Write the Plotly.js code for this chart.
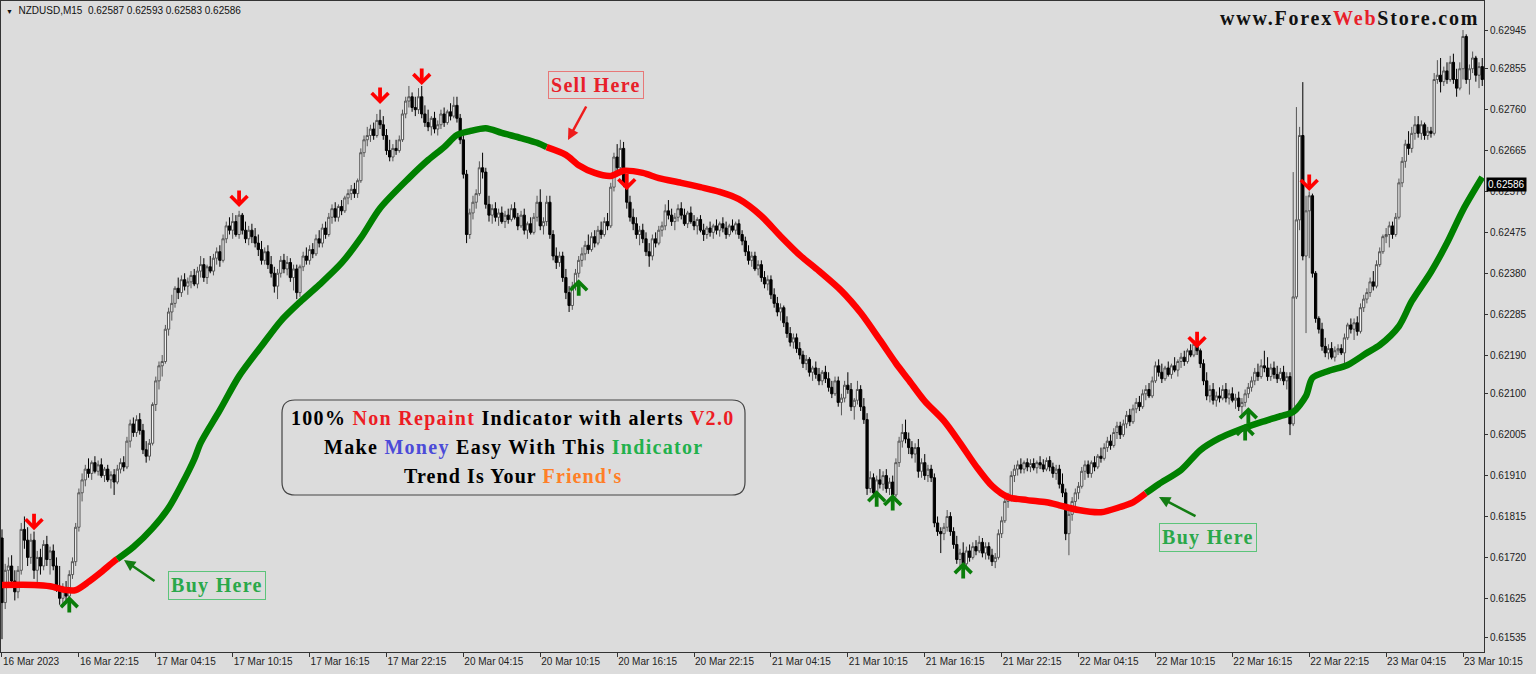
<!DOCTYPE html>
<html><head><meta charset="utf-8">
<script src="https://cdn.plot.ly/plotly-3.0.1.min.js"></script>
<style>html,body{margin:0;padding:0;background:#dcdcdc;}#chart{width:1536px;height:674px;}</style>
</head><body><div id="chart"></div>
<script>
// ---------------- data ----------------
const symbolInfo = 'NZDUSD,M15';
const lastQuote = ['0.62587', '0.62593', '0.62583', '0.62586'];
const currentPrice = 0.62586;
const timeLabels = ['16 Mar 2023','16 Mar 22:15','17 Mar 04:15','17 Mar 10:15','17 Mar 16:15','17 Mar 22:15',
  '20 Mar 04:15','20 Mar 10:15','20 Mar 16:15','20 Mar 22:15','21 Mar 04:15','21 Mar 10:15','21 Mar 16:15',
  '21 Mar 22:15','22 Mar 04:15','22 Mar 10:15','22 Mar 16:15','22 Mar 22:15','23 Mar 04:15','23 Mar 10:15'];
const barsPerLabel = 24;
const priceTicks = [0.61535,0.61625,0.61720,0.61815,0.61910,0.62005,0.62100,0.62190,0.62285,0.62380,0.62475,0.62570,0.62665,0.62760,0.62855,0.62945];

const openP = [
0.61765,0.61615,0.61690,0.61700,0.61665,0.61640,0.61690,0.61785,0.61760,0.61720,0.61760,0.61690,0.61720,0.61700,0.61750,0.61715,0.61735,0.61700,0.61650,0.61625,
0.61650,0.61630,0.61680,0.61710,0.61790,0.61870,0.61900,0.61925,0.61915,0.61940,0.61920,0.61935,0.61910,0.61925,0.61900,0.61912,0.61895,0.61925,0.61940,0.61930,
0.61990,0.62030,0.62010,0.62040,0.62015,0.61970,0.61955,0.61985,0.62075,0.62130,0.62165,0.62175,0.62250,0.62290,0.62310,0.62345,0.62335,0.62365,0.62350,0.62360,
0.62375,0.62355,0.62385,0.62400,0.62370,0.62395,0.62385,0.62415,0.62430,0.62410,0.62460,0.62490,0.62480,0.62500,0.62470,0.62515,0.62480,0.62460,0.62480,0.62465,
0.62450,0.62435,0.62410,0.62430,0.62400,0.62380,0.62350,0.62380,0.62410,0.62390,0.62405,0.62370,0.62390,0.62335,0.62395,0.62420,0.62410,0.62435,0.62425,0.62460,
0.62450,0.62485,0.62470,0.62510,0.62530,0.62510,0.62535,0.62525,0.62555,0.62565,0.62575,0.62565,0.62595,0.62660,0.62690,0.62700,0.62715,0.62700,0.62735,0.62725,
0.62700,0.62665,0.62650,0.62670,0.62665,0.62690,0.62750,0.62780,0.62790,0.62765,0.62760,0.62790,0.62750,0.62730,0.62720,0.62740,0.62715,0.62725,0.62750,0.62730,
0.62755,0.62745,0.62770,0.62740,0.62690,0.62610,0.62470,0.62520,0.62545,0.62565,0.62625,0.62615,0.62540,0.62515,0.62530,0.62510,0.62520,0.62500,0.62515,0.62505,
0.62530,0.62510,0.62490,0.62515,0.62480,0.62495,0.62475,0.62510,0.62545,0.62490,0.62500,0.62545,0.62470,0.62420,0.62405,0.62420,0.62370,0.62335,0.62305,0.62350,
0.62380,0.62410,0.62425,0.62445,0.62435,0.62465,0.62450,0.62480,0.62470,0.62500,0.62490,0.62580,0.62650,0.62625,0.62670,0.62590,0.62545,0.62510,0.62495,0.62470,
0.62480,0.62460,0.62430,0.62420,0.62460,0.62450,0.62480,0.62490,0.62525,0.62515,0.62500,0.62510,0.62530,0.62515,0.62495,0.62520,0.62500,0.62490,0.62505,0.62480,
0.62470,0.62485,0.62475,0.62490,0.62480,0.62495,0.62485,0.62470,0.62490,0.62480,0.62495,0.62470,0.62455,0.62430,0.62410,0.62420,0.62390,0.62400,0.62370,0.62355,
0.62365,0.62330,0.62310,0.62290,0.62300,0.62265,0.62240,0.62220,0.62230,0.62205,0.62190,0.62170,0.62180,0.62150,0.62160,0.62145,0.62130,0.62150,0.62135,0.62115,
0.62100,0.62130,0.62080,0.62090,0.62120,0.62110,0.62070,0.62085,0.62110,0.62070,0.62040,0.61880,0.61905,0.61870,0.61900,0.61890,0.61910,0.61880,0.61895,0.61865,
0.61940,0.61990,0.62010,0.61995,0.61975,0.61960,0.61975,0.61920,0.61940,0.61910,0.61925,0.61905,0.61800,0.61780,0.61775,0.61790,0.61815,0.61780,0.61750,0.61715,
0.61730,0.61705,0.61735,0.61720,0.61745,0.61735,0.61755,0.61730,0.61745,0.61725,0.61710,0.61720,0.61775,0.61805,0.61850,0.61860,0.61910,0.61925,0.61935,0.61925,
0.61940,0.61930,0.61938,0.61928,0.61940,0.61935,0.61925,0.61945,0.61930,0.61915,0.61925,0.61890,0.61870,0.61775,0.61820,0.61850,0.61870,0.61885,0.61920,0.61935,
0.61915,0.61940,0.61930,0.61955,0.61950,0.61975,0.61990,0.61980,0.62010,0.62025,0.62005,0.62030,0.62050,0.62035,0.62065,0.62080,0.62070,0.62100,0.62110,0.62095,
0.62130,0.62165,0.62150,0.62135,0.62160,0.62145,0.62165,0.62155,0.62175,0.62185,0.62175,0.62200,0.62190,0.62215,0.62200,0.62170,0.62130,0.62095,0.62110,0.62085,
0.62095,0.62090,0.62110,0.62090,0.62100,0.62085,0.62090,0.62070,0.62080,0.62100,0.62115,0.62130,0.62150,0.62140,0.62165,0.62160,0.62140,0.62160,0.62145,0.62135,
0.62150,0.62130,0.62140,0.62030,0.62325,0.62504,0.62700,0.62420,0.62525,0.62560,0.62380,0.62275,0.62250,0.62210,0.62195,0.62205,0.62185,0.62200,0.62205,0.62195,
0.62230,0.62260,0.62250,0.62265,0.62245,0.62300,0.62320,0.62335,0.62360,0.62350,0.62400,0.62430,0.62465,0.62470,0.62490,0.62470,0.62510,0.62590,0.62640,0.62680,
0.62670,0.62705,0.62725,0.62705,0.62725,0.62700,0.62710,0.62705,0.62830,0.62840,0.62825,0.62850,0.62830,0.62870,0.62830,0.62810,0.62855,0.62930,0.62830,0.62855,
0.62880,0.62840,0.62860];

const highP = [
0.61785,0.61705,0.61720,0.61725,0.61690,0.61700,0.61800,0.61815,0.61790,0.61775,0.61780,0.61735,0.61740,0.61760,0.61770,0.61745,0.61750,0.61720,0.61700,0.61660,
0.61665,0.61690,0.61720,0.61800,0.61880,0.61915,0.61935,0.61950,0.61945,0.61955,0.61945,0.61950,0.61930,0.61935,0.61920,0.61925,0.61935,0.61950,0.61955,0.62000,
0.62040,0.62045,0.62050,0.62055,0.62030,0.61990,0.61995,0.62080,0.62140,0.62175,0.62190,0.62260,0.62300,0.62330,0.62350,0.62370,0.62375,0.62380,0.62370,0.62385,
0.62390,0.62395,0.62420,0.62415,0.62400,0.62420,0.62425,0.62440,0.62445,0.62470,0.62500,0.62510,0.62520,0.62515,0.62525,0.62520,0.62500,0.62490,0.62495,0.62485,
0.62470,0.62455,0.62440,0.62445,0.62420,0.62395,0.62390,0.62420,0.62425,0.62420,0.62415,0.62400,0.62400,0.62400,0.62430,0.62440,0.62445,0.62450,0.62470,0.62480,
0.62495,0.62500,0.62520,0.62540,0.62545,0.62540,0.62550,0.62560,0.62575,0.62585,0.62590,0.62600,0.62670,0.62700,0.62720,0.62725,0.62730,0.62750,0.62760,0.62745,
0.62715,0.62690,0.62680,0.62690,0.62700,0.62760,0.62790,0.62815,0.62800,0.62790,0.62810,0.62815,0.62770,0.62760,0.62745,0.62755,0.62735,0.62760,0.62765,0.62760,
0.62775,0.62790,0.62790,0.62750,0.62700,0.62620,0.62530,0.62560,0.62575,0.62640,0.62660,0.62625,0.62560,0.62540,0.62545,0.62530,0.62535,0.62525,0.62530,0.62540,
0.62545,0.62520,0.62525,0.62530,0.62500,0.62510,0.62520,0.62560,0.62575,0.62510,0.62560,0.62560,0.62480,0.62440,0.62430,0.62430,0.62390,0.62350,0.62360,0.62390,
0.62420,0.62440,0.62455,0.62470,0.62475,0.62480,0.62490,0.62500,0.62510,0.62520,0.62590,0.62660,0.62680,0.62690,0.62685,0.62610,0.62560,0.62530,0.62510,0.62490,
0.62495,0.62475,0.62450,0.62470,0.62475,0.62490,0.62500,0.62540,0.62550,0.62530,0.62520,0.62540,0.62545,0.62530,0.62525,0.62535,0.62515,0.62510,0.62515,0.62495,
0.62490,0.62500,0.62495,0.62505,0.62500,0.62510,0.62500,0.62495,0.62505,0.62500,0.62505,0.62480,0.62465,0.62445,0.62430,0.62430,0.62410,0.62410,0.62385,0.62375,
0.62375,0.62345,0.62325,0.62310,0.62305,0.62280,0.62255,0.62240,0.62240,0.62220,0.62200,0.62190,0.62185,0.62165,0.62175,0.62160,0.62155,0.62165,0.62150,0.62130,
0.62140,0.62140,0.62100,0.62130,0.62150,0.62125,0.62090,0.62130,0.62120,0.62090,0.62055,0.61920,0.61915,0.61910,0.61925,0.61920,0.61925,0.61905,0.61910,0.61950,
0.62000,0.62030,0.62040,0.62010,0.61990,0.61985,0.61995,0.61950,0.61960,0.61935,0.61935,0.61915,0.61815,0.61790,0.61800,0.61830,0.61825,0.61790,0.61770,0.61740,
0.61755,0.61745,0.61750,0.61755,0.61760,0.61770,0.61765,0.61755,0.61755,0.61740,0.61730,0.61785,0.61815,0.61860,0.61870,0.61920,0.61935,0.61945,0.61950,0.61945,
0.61950,0.61948,0.61950,0.61945,0.61955,0.61948,0.61952,0.61955,0.61940,0.61935,0.61935,0.61915,0.61880,0.61830,0.61860,0.61880,0.61895,0.61930,0.61945,0.61945,
0.61945,0.61955,0.61960,0.61975,0.61985,0.62000,0.62005,0.62020,0.62035,0.62035,0.62040,0.62060,0.62065,0.62075,0.62090,0.62095,0.62110,0.62120,0.62125,0.62140,
0.62175,0.62180,0.62170,0.62165,0.62175,0.62170,0.62185,0.62180,0.62195,0.62200,0.62205,0.62215,0.62225,0.62230,0.62205,0.62180,0.62150,0.62120,0.62125,0.62105,
0.62115,0.62120,0.62125,0.62110,0.62115,0.62100,0.62105,0.62090,0.62110,0.62125,0.62140,0.62160,0.62170,0.62180,0.62200,0.62185,0.62170,0.62175,0.62165,0.62160,
0.62165,0.62150,0.62150,0.62615,0.62766,0.62720,0.62824,0.62560,0.62570,0.62565,0.62385,0.62280,0.62265,0.62230,0.62215,0.62220,0.62210,0.62215,0.62215,0.62240,
0.62265,0.62275,0.62275,0.62280,0.62310,0.62330,0.62345,0.62370,0.62385,0.62410,0.62440,0.62470,0.62485,0.62500,0.62500,0.62520,0.62600,0.62650,0.62690,0.62710,
0.62720,0.62745,0.62745,0.62735,0.62730,0.62720,0.62720,0.62845,0.62875,0.62880,0.62860,0.62870,0.62885,0.62890,0.62855,0.62870,0.62945,0.62935,0.62865,0.62895,
0.62885,0.62870,0.62880];

const lowP = [
0.61530,0.61600,0.61660,0.61650,0.61620,0.61625,0.61680,0.61740,0.61700,0.61705,0.61670,0.61650,0.61680,0.61690,0.61700,0.61680,0.61690,0.61640,0.61610,0.61605,
0.61620,0.61620,0.61670,0.61700,0.61780,0.61850,0.61885,0.61905,0.61900,0.61915,0.61910,0.61905,0.61895,0.61895,0.61880,0.61865,0.61890,0.61915,0.61920,0.61925,
0.61975,0.62000,0.62000,0.62005,0.61960,0.61940,0.61945,0.61980,0.62060,0.62110,0.62140,0.62170,0.62235,0.62270,0.62300,0.62320,0.62325,0.62340,0.62330,0.62345,
0.62350,0.62345,0.62370,0.62360,0.62355,0.62380,0.62375,0.62400,0.62395,0.62405,0.62450,0.62470,0.62460,0.62465,0.62460,0.62470,0.62450,0.62445,0.62450,0.62440,
0.62420,0.62400,0.62400,0.62390,0.62370,0.62335,0.62320,0.62370,0.62380,0.62375,0.62360,0.62340,0.62320,0.62325,0.62385,0.62400,0.62400,0.62415,0.62420,0.62440,
0.62440,0.62460,0.62465,0.62495,0.62500,0.62500,0.62515,0.62520,0.62540,0.62550,0.62555,0.62555,0.62590,0.62650,0.62675,0.62685,0.62690,0.62695,0.62715,0.62690,
0.62655,0.62640,0.62640,0.62655,0.62660,0.62685,0.62740,0.62765,0.62755,0.62745,0.62750,0.62740,0.62720,0.62710,0.62700,0.62705,0.62700,0.62715,0.62720,0.62725,
0.62735,0.62740,0.62730,0.62680,0.62600,0.62450,0.62460,0.62505,0.62530,0.62560,0.62600,0.62530,0.62500,0.62495,0.62500,0.62490,0.62495,0.62485,0.62495,0.62500,
0.62505,0.62480,0.62485,0.62470,0.62460,0.62470,0.62470,0.62500,0.62480,0.62470,0.62490,0.62460,0.62410,0.62390,0.62395,0.62360,0.62320,0.62290,0.62295,0.62340,
0.62370,0.62395,0.62410,0.62425,0.62430,0.62440,0.62445,0.62460,0.62465,0.62480,0.62485,0.62570,0.62610,0.62615,0.62580,0.62530,0.62500,0.62480,0.62460,0.62445,
0.62450,0.62420,0.62395,0.62410,0.62440,0.62445,0.62465,0.62480,0.62505,0.62490,0.62480,0.62500,0.62505,0.62490,0.62485,0.62495,0.62480,0.62470,0.62475,0.62455,
0.62460,0.62465,0.62460,0.62470,0.62465,0.62475,0.62460,0.62465,0.62475,0.62470,0.62460,0.62445,0.62420,0.62400,0.62395,0.62385,0.62375,0.62360,0.62345,0.62340,
0.62320,0.62300,0.62280,0.62270,0.62255,0.62230,0.62210,0.62205,0.62195,0.62180,0.62160,0.62155,0.62140,0.62130,0.62135,0.62120,0.62120,0.62125,0.62105,0.62090,
0.62095,0.62070,0.62050,0.62080,0.62100,0.62060,0.62040,0.62075,0.62060,0.62030,0.61865,0.61870,0.61860,0.61855,0.61880,0.61875,0.61870,0.61865,0.61850,0.61860,
0.61930,0.61975,0.61985,0.61960,0.61950,0.61940,0.61905,0.61905,0.61900,0.61895,0.61895,0.61790,0.61770,0.61730,0.61760,0.61780,0.61770,0.61740,0.61705,0.61690,
0.61695,0.61700,0.61710,0.61715,0.61725,0.61730,0.61720,0.61715,0.61715,0.61700,0.61695,0.61715,0.61765,0.61800,0.61835,0.61850,0.61895,0.61910,0.61915,0.61915,
0.61920,0.61918,0.61922,0.61915,0.61925,0.61918,0.61920,0.61920,0.61905,0.61900,0.61880,0.61860,0.61760,0.61725,0.61805,0.61835,0.61855,0.61880,0.61900,0.61905,
0.61905,0.61920,0.61925,0.61940,0.61945,0.61965,0.61970,0.61975,0.61995,0.61995,0.62000,0.62020,0.62025,0.62030,0.62055,0.62060,0.62065,0.62085,0.62090,0.62090,
0.62125,0.62140,0.62125,0.62130,0.62140,0.62135,0.62150,0.62140,0.62160,0.62165,0.62170,0.62185,0.62185,0.62190,0.62160,0.62120,0.62085,0.62080,0.62075,0.62070,
0.62080,0.62085,0.62080,0.62075,0.62080,0.62065,0.62060,0.62045,0.62070,0.62090,0.62105,0.62120,0.62130,0.62135,0.62150,0.62130,0.62130,0.62135,0.62125,0.62130,
0.62120,0.62110,0.62004,0.62025,0.62320,0.62480,0.62410,0.62241,0.62415,0.62370,0.62265,0.62240,0.62200,0.62185,0.62180,0.62180,0.62175,0.62190,0.62190,0.62170,
0.62225,0.62240,0.62225,0.62235,0.62240,0.62290,0.62310,0.62325,0.62340,0.62345,0.62395,0.62425,0.62450,0.62440,0.62460,0.62465,0.62505,0.62580,0.62625,0.62655,
0.62660,0.62690,0.62695,0.62690,0.62690,0.62690,0.62695,0.62700,0.62820,0.62800,0.62815,0.62820,0.62825,0.62820,0.62790,0.62805,0.62830,0.62820,0.62795,0.62845,
0.62825,0.62810,0.62815];

const closeP = [
0.61615,0.61690,0.61700,0.61665,0.61640,0.61690,0.61785,0.61760,0.61720,0.61760,0.61690,0.61720,0.61700,0.61750,0.61715,0.61735,0.61700,0.61650,0.61625,0.61650,
0.61630,0.61680,0.61710,0.61790,0.61870,0.61900,0.61925,0.61915,0.61940,0.61920,0.61935,0.61910,0.61925,0.61900,0.61912,0.61895,0.61925,0.61940,0.61930,0.61990,
0.62030,0.62010,0.62040,0.62015,0.61970,0.61955,0.61985,0.62075,0.62130,0.62165,0.62175,0.62250,0.62290,0.62310,0.62345,0.62335,0.62365,0.62350,0.62360,0.62375,
0.62355,0.62385,0.62400,0.62370,0.62395,0.62385,0.62415,0.62430,0.62410,0.62460,0.62490,0.62480,0.62500,0.62470,0.62515,0.62480,0.62460,0.62480,0.62465,0.62450,
0.62435,0.62410,0.62430,0.62400,0.62380,0.62350,0.62380,0.62410,0.62390,0.62405,0.62370,0.62390,0.62335,0.62395,0.62420,0.62410,0.62435,0.62425,0.62460,0.62450,
0.62485,0.62470,0.62510,0.62530,0.62510,0.62535,0.62525,0.62555,0.62565,0.62575,0.62565,0.62595,0.62660,0.62690,0.62700,0.62715,0.62700,0.62735,0.62725,0.62700,
0.62665,0.62650,0.62670,0.62665,0.62690,0.62750,0.62780,0.62790,0.62765,0.62760,0.62790,0.62750,0.62730,0.62720,0.62740,0.62715,0.62725,0.62750,0.62730,0.62755,
0.62745,0.62770,0.62740,0.62690,0.62610,0.62470,0.62520,0.62545,0.62565,0.62625,0.62615,0.62540,0.62515,0.62530,0.62510,0.62520,0.62500,0.62515,0.62505,0.62530,
0.62510,0.62490,0.62515,0.62480,0.62495,0.62475,0.62510,0.62545,0.62490,0.62500,0.62545,0.62470,0.62420,0.62405,0.62420,0.62370,0.62335,0.62305,0.62350,0.62380,
0.62410,0.62425,0.62445,0.62435,0.62465,0.62450,0.62480,0.62470,0.62500,0.62490,0.62580,0.62650,0.62625,0.62670,0.62590,0.62545,0.62510,0.62495,0.62470,0.62480,
0.62460,0.62430,0.62420,0.62460,0.62450,0.62480,0.62490,0.62525,0.62515,0.62500,0.62510,0.62530,0.62515,0.62495,0.62520,0.62500,0.62490,0.62505,0.62480,0.62470,
0.62485,0.62475,0.62490,0.62480,0.62495,0.62485,0.62470,0.62490,0.62480,0.62495,0.62470,0.62455,0.62430,0.62410,0.62420,0.62390,0.62400,0.62370,0.62355,0.62365,
0.62330,0.62310,0.62290,0.62300,0.62265,0.62240,0.62220,0.62230,0.62205,0.62190,0.62170,0.62180,0.62150,0.62160,0.62145,0.62130,0.62150,0.62135,0.62115,0.62100,
0.62130,0.62080,0.62090,0.62120,0.62110,0.62070,0.62085,0.62110,0.62070,0.62040,0.61880,0.61905,0.61870,0.61900,0.61890,0.61910,0.61880,0.61895,0.61865,0.61940,
0.61990,0.62010,0.61995,0.61975,0.61960,0.61975,0.61920,0.61940,0.61910,0.61925,0.61905,0.61800,0.61780,0.61775,0.61790,0.61815,0.61780,0.61750,0.61715,0.61730,
0.61705,0.61735,0.61720,0.61745,0.61735,0.61755,0.61730,0.61745,0.61725,0.61710,0.61720,0.61775,0.61805,0.61850,0.61860,0.61910,0.61925,0.61935,0.61925,0.61940,
0.61930,0.61938,0.61928,0.61940,0.61935,0.61925,0.61945,0.61930,0.61915,0.61925,0.61890,0.61870,0.61775,0.61820,0.61850,0.61870,0.61885,0.61920,0.61935,0.61915,
0.61940,0.61930,0.61955,0.61950,0.61975,0.61990,0.61980,0.62010,0.62025,0.62005,0.62030,0.62050,0.62035,0.62065,0.62080,0.62070,0.62100,0.62110,0.62095,0.62130,
0.62165,0.62150,0.62135,0.62160,0.62145,0.62165,0.62155,0.62175,0.62185,0.62175,0.62200,0.62190,0.62215,0.62200,0.62170,0.62130,0.62095,0.62110,0.62085,0.62095,
0.62090,0.62110,0.62090,0.62100,0.62085,0.62090,0.62070,0.62080,0.62100,0.62115,0.62130,0.62150,0.62140,0.62165,0.62160,0.62140,0.62160,0.62145,0.62135,0.62150,
0.62130,0.62140,0.62030,0.62325,0.62504,0.62700,0.62420,0.62525,0.62560,0.62380,0.62275,0.62250,0.62210,0.62195,0.62205,0.62185,0.62200,0.62205,0.62195,0.62230,
0.62260,0.62250,0.62265,0.62245,0.62300,0.62320,0.62335,0.62360,0.62350,0.62400,0.62430,0.62465,0.62470,0.62490,0.62470,0.62510,0.62590,0.62640,0.62680,0.62670,
0.62705,0.62725,0.62705,0.62725,0.62700,0.62710,0.62705,0.62830,0.62840,0.62825,0.62850,0.62830,0.62870,0.62830,0.62810,0.62855,0.62930,0.62830,0.62855,0.62880,
0.62840,0.62860,0.62830];

// trend moving average (bar index, value)
const maBar = [0,10,15,20,23,27,31,35,36,
  41,47,52,56,60,62,68,74,81,87,93,99,106,112,118,127,133,138,142,146,151,156,162,167,170,
  176,180,185,190,194,200,205,212,218,224,230,237,243,249,255,262,268,274,279,283,288,294,299,304,309,314,320,326,330,336,343,349,353,357,
  361,368,374,380,386,393,399,403,407,409,414,420,426,430,436,440,446,451,456,462];
const maVal = [0.61656,0.61656,0.61653,0.61644,0.61644,0.61663,0.61686,0.61711,0.61716,
  0.61744,0.61788,0.61835,0.61888,0.61948,0.61986,0.62062,0.62141,0.62211,0.62269,0.62313,0.62353,0.62404,0.62462,0.62531,0.62601,0.62643,0.62673,0.62701,0.62710,0.62717,0.62706,0.62694,0.62683,0.62673,
  0.62655,0.62631,0.62613,0.62606,0.62618,0.62613,0.62601,0.62590,0.62580,0.62569,0.62552,0.62513,0.62466,0.62422,0.62385,0.62339,0.62288,0.62225,0.62171,0.62132,0.62083,0.62037,0.61986,0.61932,0.61886,0.61860,0.61853,0.61848,0.61841,0.61830,0.61825,0.61837,0.61848,0.61869,
  0.61890,0.61923,0.61969,0.61997,0.62016,0.62034,0.62048,0.62058,0.62095,0.62137,0.62153,0.62167,0.62195,0.62213,0.62257,0.62315,0.62383,0.62450,0.62527,0.62603];
const trendBreaks = [36, 170, 357];          // bars where the MA colour flips
const trendColors = ['#ff0000', '#008000'];   // down, up (starts down)

// signal arrows
const sellBar = [10, 74, 118, 131, 195, 373, 408];
const sellTip = [0.61783, 0.62534, 0.62773, 0.62817, 0.62573, 0.62206, 0.62571];
const buyBar  = [21, 180, 273, 278, 300, 388, 389];
const buyTip  = [0.61630, 0.62366, 0.61876, 0.61867, 0.61709, 0.62030, 0.62069];

// ---------------- geometry helpers ----------------
const W = 1536, H = 674;
const M = {l: 1, r: 52, t: 1, b: 22};
const PL = M.l, PR = W - M.r, PT = M.t, PB = H - M.b;
const pxX = x => (x - PL) / (PR - PL);
const pxY = y => (PB - y) / (PB - PT);

function roundRect(x0, y0, x1, y1, r) {
  const a = pxX(x0), b = pxX(x1), t = pxY(y0), u = pxY(y1);
  const rx = r / (PR - PL), ry = r / (PB - PT);
  return `M${a+rx},${t} L${b-rx},${t} Q${b},${t} ${b},${t-ry} L${b},${u+ry} Q${b},${u} ${b-rx},${u} ` +
         `L${a+rx},${u} Q${a},${u} ${a},${u+ry} L${a},${t-ry} Q${a},${t} ${a+rx},${t} Z`;
}
const sp = (txt, color, ls) => `<span style="letter-spacing:${ls}px${color ? ';color:' + color : ''}">${txt}</span>`;

// ---------------- traces ----------------
const n = closeP.length;
const barIdx = closeP.map((_, i) => i);
const traces = [];
const bounds = [0, ...trendBreaks, n - 1];
for (let s = 0; s < bounds.length - 1; s++) {
  const xs = [], ys = [];
  maBar.forEach((b, k) => { if (b >= bounds[s] && b <= bounds[s + 1]) { xs.push(b); ys.push(maVal[k]); } });
  traces.push({type: 'scatter', mode: 'lines', x: xs, y: ys, hoverinfo: 'skip', showlegend: false,
    line: {color: trendColors[s % 2], width: 6.5, shape: 'spline', smoothing: 0.8}});
}
traces.push({
  type: 'candlestick', x: barIdx, open: openP, high: highP, low: lowP, close: closeP,
  increasing: {line: {color: '#555555', width: 1}, fillcolor: '#f2f2f2'},
  decreasing: {line: {color: '#000000', width: 1}, fillcolor: '#000000'},
  whiskerwidth: 0, hoverinfo: 'skip', showlegend: false
});

// ---------------- annotations ----------------
const ann = [];
sellBar.forEach((b, k) => ann.push({x: b, y: sellTip[k], xref: 'x', yref: 'y', text: '', showarrow: true,
  ax: 0, ay: -18, arrowhead: 4, arrowsize: 0.85, arrowwidth: 3.8, arrowcolor: '#ff0000'}));
buyBar.forEach((b, k) => ann.push({x: b, y: buyTip[k], xref: 'x', yref: 'y', text: '', showarrow: true,
  ax: 0, ay: 18, arrowhead: 4, arrowsize: 0.85, arrowwidth: 3.8, arrowcolor: '#0a7d0a'}));

ann.push({xref: 'paper', yref: 'paper', x: pxX(4), y: pxY(10), xanchor: 'left', yanchor: 'middle', showarrow: false,
  text: '<span style="font-size:7px">▼</span>&nbsp;&nbsp;' + symbolInfo + '&nbsp;&nbsp;' + lastQuote.join(' '),
  font: {family: 'Liberation Sans', size: 10, color: '#111111'}});

ann.push({xref: 'paper', yref: 'paper', x: pxX(1481), y: pxY(18), xanchor: 'right', yanchor: 'middle', showarrow: false,
  text: sp('www.Forex', null, 1.8) + sp('Web', '#e8202a', 1.8) + sp('Store.com', null, 1.8),
  font: {family: 'Liberation Serif', size: 20, weight: 700, color: '#111111'}});

const serif = {family: 'Liberation Serif', size: 20, weight: 700, color: '#000000'};
ann.push({xref: 'paper', yref: 'paper', x: pxX(513), y: pxY(418), xanchor: 'center', yanchor: 'middle', showarrow: false, font: serif,
  text: sp('100% ', null, 1.3) + sp('Non Repaint', '#ed1c24', 1.3) + sp(' Indicator with alerts ', null, 1.3) + sp('V2.0', '#ed1c24', 1.3)});
ann.push({xref: 'paper', yref: 'paper', x: pxX(513), y: pxY(447), xanchor: 'center', yanchor: 'middle', showarrow: false, font: serif,
  text: sp('Make ', null, 1.3) + sp('Money', '#4b4bd8', 1.3) + sp(' Easy With This ', null, 1.3) + sp('Indicator', '#22b14c', 1.3)});
ann.push({xref: 'paper', yref: 'paper', x: pxX(513), y: pxY(476), xanchor: 'center', yanchor: 'middle', showarrow: false, font: serif,
  text: sp('Trend Is Your ', null, 1.1) + sp("Friend's", '#ff7f27', 1.1)});

// callout boxes
ann.push({xref: 'paper', yref: 'paper', x: pxX(596), y: pxY(85), xanchor: 'center', yanchor: 'middle', showarrow: false,
  text: sp('Sell Here', null, 1.3), font: Object.assign({}, serif, {color: '#e8202a'}),
  bordercolor: '#e87878', borderwidth: 1, borderpad: 2});
ann.push({xref: 'paper', yref: 'paper', x: pxX(217), y: pxY(585), xanchor: 'center', yanchor: 'middle', showarrow: false,
  text: sp('Buy Here', null, 1.3), font: Object.assign({}, serif, {color: '#2aa84a'}),
  bordercolor: '#5cc47a', borderwidth: 1, borderpad: 2});
ann.push({xref: 'paper', yref: 'paper', x: pxX(1208), y: pxY(537), xanchor: 'center', yanchor: 'middle', showarrow: false,
  text: sp('Buy Here', null, 1.3), font: Object.assign({}, serif, {color: '#2aa84a'}),
  bordercolor: '#5cc47a', borderwidth: 1, borderpad: 2});

// callout pointers
ann.push({xref: 'paper', yref: 'paper', x: pxX(568), y: pxY(140), text: '', showarrow: true, ax: 19, ay: -35,
  arrowhead: 2, arrowsize: 0.9, arrowwidth: 2.5, arrowcolor: '#ee1c1c'});
ann.push({xref: 'paper', yref: 'paper', x: pxX(124), y: pxY(560), text: '', showarrow: true, ax: 32, ay: 22,
  arrowhead: 2, arrowsize: 0.9, arrowwidth: 2.5, arrowcolor: '#137d13'});
ann.push({xref: 'paper', yref: 'paper', x: pxX(1159), y: pxY(497), text: '', showarrow: true, ax: 38, ay: 20,
  arrowhead: 2, arrowsize: 0.9, arrowwidth: 2.5, arrowcolor: '#137d13'});

// current price marker on the price scale
ann.push({xref: 'paper', yref: 'y', x: pxX(PR + 2), y: currentPrice, xanchor: 'left', yanchor: 'middle', showarrow: false,
  text: currentPrice.toFixed(5), font: {family: 'Liberation Sans', size: 10, color: '#ffffff'}, bgcolor: '#000000', borderpad: 1});

// ---------------- layout ----------------
const layout = {
  width: W, height: H, margin: M,
  paper_bgcolor: '#dcdcdc', plot_bgcolor: '#dcdcdc',
  font: {family: 'Liberation Sans', size: 10, color: '#222222'},
  showlegend: false,
  boxgap: 0.3, boxgroupgap: 0,
  xaxis: {
    range: [-0.31, n - 0.45], rangeslider: {visible: false}, showgrid: false, zeroline: false,
    showline: true, linecolor: '#333333', linewidth: 1, mirror: true,
    tickmode: 'array', tickvals: timeLabels.map((_, k) => k * barsPerLabel), ticktext: timeLabels,
    ticks: 'outside', ticklen: 4, tickcolor: '#333333', ticklabelposition: 'outside right',
    tickfont: {family: 'Liberation Sans', size: 10, color: '#222222'}
  },
  yaxis: {
    range: [0.615002, 0.630124], side: 'right', showgrid: false, zeroline: false,
    showline: true, linecolor: '#333333', linewidth: 1, mirror: true,
    tickmode: 'array', tickvals: priceTicks, ticktext: priceTicks.map(v => v.toFixed(5)),
    ticks: 'outside', ticklen: 3, tickcolor: '#333333',
    tickfont: {family: 'Liberation Sans', size: 10, color: '#222222'}
  },
  shapes: [{type: 'path', xref: 'paper', yref: 'paper', path: roundRect(282, 400, 745, 495, 13),
    line: {color: '#444444', width: 1.2}, fillcolor: 'rgba(0,0,0,0)'}],
  annotations: ann
};

Plotly.newPlot('chart', traces, layout, {staticPlot: true, displayModeBar: false});
</script>
</body></html>
